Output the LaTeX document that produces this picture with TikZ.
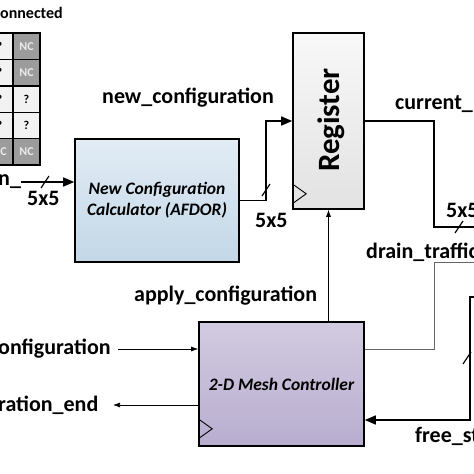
\documentclass[tikz,border=0pt]{standalone}
\usepackage{fontspec}
\setmainfont{Carlito}
\usetikzlibrary{arrows.meta}
\definecolor{afdT}{HTML}{E2ECF5}
\definecolor{afdB}{HTML}{C3D7E7}
\definecolor{regT}{HTML}{F8F8F8}
\definecolor{regB}{HTML}{E2E2E2}
\definecolor{meshT}{HTML}{D2CBE0}
\definecolor{meshB}{HTML}{B8ADCF}
\definecolor{ncgray}{HTML}{9C9C9C}
\definecolor{qlight}{HTML}{F2F2F2}
\begin{document}
\begin{tikzpicture}[x=1pt,y=-1pt,
  lbl/.style={font=\bfseries\fontsize{22}{22}\selectfont, inner sep=0pt},
  box/.style={draw=black, line width=1.6pt, inner sep=0pt},
  bus/.style={line width=1.6pt},
  sig/.style={line width=0.7pt},
  drain/.style={line width=0.8pt, draw=black!60},
  bigtip/.style={-{Triangle[length=11pt,width=9pt]}},
  smalltip/.style={-{Latex[length=7pt,width=5pt]}},
  clk/.style={line width=0.9pt},
  slashln/.style={line width=1.2pt},
  nccell/.style={draw=black, line width=1.4pt, fill=ncgray, minimum width=27pt, minimum height=26.4pt, inner sep=0pt, font=\bfseries\fontsize{12}{12}\selectfont, text=white!92!black},
  qcell/.style={draw=black, line width=1.4pt, fill=qlight, minimum width=27pt, minimum height=26.4pt, inner sep=0pt, font=\bfseries\fontsize{12}{12}\selectfont, text=black}
]
\useasboundingbox (0,0) rectangle (474,474);
\fill[white] (0,0) rectangle (474,474);

% table
\node[lbl, anchor=west, font=\bfseries\fontsize{16}{16}\selectfont] (conn) at (0,13) {onnected};
\node[qcell] (a1) at (-0.5,46.2) {?};
\node[qcell] (a2) at (-0.5,72.6) {?};
\node[qcell] (a3) at (-0.5,99.0) {?};
\node[qcell] (a4) at (-0.5,125.4) {?};
\node[nccell] (a5) at (-0.5,151.8) {NC};
\node[nccell] (b1) at (26.5,46.2) {NC};
\node[nccell] (b2) at (26.5,72.6) {NC};
\node[qcell] (b3) at (26.5,99.0) {?};
\node[qcell] (b4) at (26.5,125.4) {?};
\node[nccell] (b5) at (26.5,151.8) {NC};

% blocks
\node[box, minimum width=164pt, minimum height=123pt, top color=afdT, bottom color=afdB, align=center,
  font=\bfseries\itshape\fontsize{17.5}{21}\selectfont] (afdor) at (157,200.5) {New Configuration\\Calculator (AFDOR)};
\node[box, minimum width=71pt, minimum height=176pt, top color=regT, bottom color=regB] (reg) at (328.5,121) {};
\node[rotate=90, inner sep=0pt, font=\bfseries\fontsize{31}{31}\selectfont] (regt) at (331,120) {Register};
\node[box, minimum width=165pt, minimum height=124pt, top color=meshT, bottom color=meshB,
  font=\bfseries\itshape\fontsize{17.5}{17.5}\selectfont] (mesh) at (281.5,384) {2-D Mesh Controller};

% clock triangles
\draw[clk] ([yshift=6pt]reg.south west) -- ([xshift=14pt,yshift=16pt]reg.south west) -- ([yshift=26pt]reg.south west);
\draw[clk] ([yshift=8pt]mesh.south west) -- ([xshift=14pt,yshift=18pt]mesh.south west) -- ([yshift=28pt]mesh.south west);

% labels
\node[lbl, anchor=west] (nin) at (-2,182) {n\_};
\node[lbl, anchor=west] (s1) at (27,198) {5x5};
\node[lbl, anchor=west] (newc) at (102,98) {new\_configuration};
\node[lbl, anchor=west] (s2) at (255,220) {5x5};
\node[lbl, anchor=west] (cur) at (395,104) {current\_};
\node[lbl, anchor=west] (s3) at (446,210) {5x5};
\node[lbl, anchor=west] (drt) at (366,252) {drain\_traffic};
\node[lbl, anchor=west] (appc) at (134,296) {apply\_configuration};
\node[lbl, anchor=west] (lcfg) at (-2,349) {onfiguration};
\node[lbl, anchor=west] (lend) at (-2,405) {ration\_end};
\node[lbl, anchor=west] (frs) at (415,436) {free\_st};

% connectors
\coordinate (inS) at (21,182);
\draw[bus,bigtip] (inS) -- (inS -| afdor.west);
\draw[slashln] (41,188) -- (49,176);

\coordinate (k1) at (266,200.5);
\draw[bus,bigtip] (afdor.east) -- (k1) |- (reg.west);
\draw[slashln] (262,196) -- (270,184);

\coordinate (k2) at (434,227);
\coordinate (o1) at (478,227);
\draw[bus] (reg.east) -| (k2) -- (o1);
\draw[slashln] (455,233) -- (463,221);

\coordinate (d1) at (434,262);
\coordinate (d2) at (478,262);
\draw[drain] ([yshift=35pt]mesh.east) -| (d1) -- (d2);

\coordinate (f0) at (478,297);
\coordinate (f1) at (470,297);
\draw[bus,bigtip] (f0) -- (f1) |- ([yshift=-36pt]mesh.east);
\draw[slashln] (463,364) -- (471,352);

\draw[sig,smalltip] (mesh.north -| reg.south) -- (reg.south);

\coordinate (lc) at (118,349);
\draw[sig,smalltip] (lc) -- (lc -| mesh.west);
\coordinate (le) at (113,405);
\draw[sig,smalltip] (le -| mesh.west) -- (le);
\end{tikzpicture}
\end{document}
